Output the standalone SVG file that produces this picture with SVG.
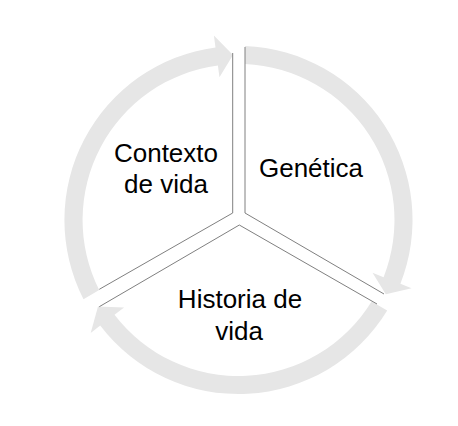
<svg xmlns="http://www.w3.org/2000/svg" width="458" height="426" viewBox="0 0 458 426">
  <style>
    .arrow { fill: #e6e6e6; stroke: none; }
    .edge { fill: none; stroke: #808080; stroke-width: 1; }
    .label { font-family: "Liberation Sans", Arial, sans-serif; font-size: 26px; fill: #000000; text-anchor: middle; }
  </style>
  <rect x="0" y="0" width="458" height="426" fill="#ffffff"/>
  <g id="connectors">
    <path class="arrow" d="M99.2,290.1 L83.5,299.2 A174,174 0 0 1 215.5,47.5 L213.9,35.6 L233.0,55.1 L219.45,77.3 L217.9,65.4 A156,156 0 0 0 99.2,290.1 Z"/>
    <path class="arrow" d="M245,46.1 A174,174 0 0 1 400.4,283.8 L411.55,288.2 L385.8,294.3 L372.5,272.8 L383.6,277.2 A156,156 0 0 0 245,64.1 Z"/>
    <path class="arrow" d="M371.6,301.4 L387.2,310.4 A174,174 0 0 1 100.2,325.6 L90.7,332.9 L98.0,306.6 L124.05,307.4 L114.5,314.7 A156,156 0 0 0 371.6,301.4 Z"/>
  </g>
  <g id="node-contexto">
    <polyline class="edge" points="232.7,53 232.7,213 99.3,289.3"/>
    <text class="label" x="166" y="162">Contexto</text>
    <text class="label" x="166" y="193">de vida</text>
  </g>
  <g id="node-genetica">
    <polyline class="edge" points="245,47 245,213 384,294"/>
    <text class="label" x="311" y="177">Genética</text>
  </g>
  <g id="node-historia">
    <polyline class="edge" points="99.3,306.7 239.3,225 377,304"/>
    <text class="label" x="240" y="308">Historia de</text>
    <text class="label" x="239" y="340">vida</text>
  </g>
</svg>
